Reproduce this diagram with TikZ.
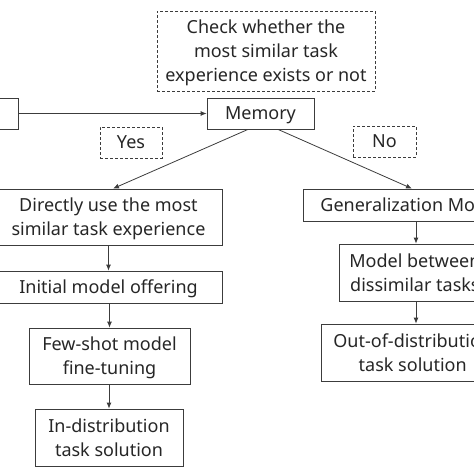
\documentclass[tikz,border=0pt]{standalone}
\usepackage{fontspec}
\setmainfont{Noto Sans}
\usetikzlibrary{arrows.meta,calc}

\definecolor{linegray}{HTML}{3C3C3C}
\definecolor{textgray}{HTML}{262626}

\begin{document}
\begin{tikzpicture}[x=1pt,y=-1pt]
				\tikzset{box/.style={draw=linegray,line width=0.8pt,text=textgray,align=center,inner sep=0pt,
						text depth=0pt,font=\fontsize{18}{24}\selectfont}}
				\tikzset{dashbox/.style={box,dash pattern=on 3pt off 2pt}}
				\tikzset{flow/.style={draw=linegray,line width=0.8pt,-{Latex[length=6pt,width=5pt]}}}
				\useasboundingbox (0,0) rectangle (474,474);
				\clip (0,0) rectangle (474,474);
				% question and memory
				\node[dashbox,minimum width=218pt,minimum height=80pt] (check) at (266,51) {Check whether the\\most similar task\\experience exists or not};
				\node[box,minimum width=107pt,minimum height=31pt] (memory) at (260.5,113.5) {Memory};
				\node[box,anchor=east,inner xsep=20pt,minimum height=31pt] (task) at (19,113.5) {New task};
				\node[dashbox,minimum width=62pt,minimum height=31pt] (yes) at (131,142.5) {Yes};
				\node[dashbox,minimum width=63pt,minimum height=31pt] (no) at (384.5,141.5) {No};
				% left branch
				\node[box,minimum width=227pt,minimum height=56pt] (direct) at (108.5,217) {Directly use the most\\similar task experience};
				\node[box,minimum width=227pt,minimum height=32pt] (initial) at (108.5,287) {Initial model offering};
				\node[box,minimum width=161pt,minimum height=56pt] (fewshot) at (109.5,356) {Few-shot model\\fine-tuning};
				\node[box,minimum width=148pt,minimum height=57pt] (indist) at (109,437.5) {In-distribution\\task solution};
				% right branch
				\node[box,anchor=west,inner xsep=17pt,minimum height=32pt] (general) at (303,205) {Generalization Model};
				\node[box,anchor=west,inner xsep=10pt,minimum height=57pt] (between) at (339,272.5) {Model between\\dissimilar tasks};
				\node[box,anchor=west,inner xsep=12pt,minimum height=57pt] (outdist) at (321,352.5) {Out-of-distribution\\task solution};
				\coordinate (rightline) at (416,0);
				% connectors
				\draw[flow] (task.east |- memory.west) -- (memory.west);
				\draw[flow] ([xshift=-12.5pt]memory.south) -- ([xshift=4.5pt]direct.north);
				\draw[flow] ([xshift=17.5pt]memory.south) -- (general.north -| 412,0);
				\draw[flow] (direct.south) -- (initial.south |- initial.north);
				\draw[flow] (initial.south -| fewshot.north) -- (fewshot.north);
				\draw[flow] (fewshot.south -| indist.north) -- (indist.north);
				\draw[flow] (general.south -| rightline) -- (between.north -| rightline);
				\draw[flow] (between.south -| rightline) -- (outdist.north -| rightline);
			\end{tikzpicture}
\end{document}
